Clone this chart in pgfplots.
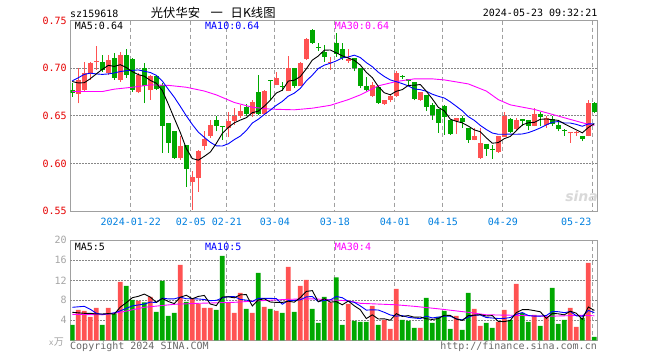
\documentclass[border=0pt]{standalone}
\usepackage{pgfplots}
\pgfplotsset{compat=1.18}
\usepackage{fontspec}
\setmainfont{DejaVu Sans Mono}
\setsansfont{DejaVu Sans}
\newfontfamily\cjk{Noto Sans CJK SC}
\definecolor{cred}{RGB}{255,82,82}
\definecolor{cgreen}{RGB}{0,168,0}
\definecolor{labred}{RGB}{230,0,0}
\definecolor{dateblue}{RGB}{0,128,224}
\definecolor{framegray}{RGB}{160,160,160}
\definecolor{gridgray}{RGB}{160,160,160}
\definecolor{dotgray}{RGB}{135,135,135}
\definecolor{volgray}{RGB}{165,165,165}
\definecolor{copygray}{RGB}{105,105,105}
\definecolor{maten}{RGB}{0,0,255}
\definecolor{mathirty}{RGB}{255,0,255}
\newcommand{\tf}{\fontsize{10}{12}\selectfont}
\pgfplotsset{
  kbase/.style={
    scale only axis, width=527.4pt, anchor=north west,
    xmin=-0.333, xmax=87.567,
    axis line style={draw=framegray, line width=1pt},
    major tick length=0pt,
    unbounded coords=jump,
    tick label style={font=\tf},
    yticklabel style={anchor=east, inner sep=0pt, xshift=-3.5pt},
  },
  vgrid/.style={forget plot, gridgray, line width=1pt, dash pattern=on 4pt off 3pt},
  hgrid/.style={forget plot, dotgray, line width=1pt, dash pattern=on 1.2pt off 1.8pt},
}
\begin{document}
\begin{tikzpicture}
\fill[white] (0pt,0pt) rectangle (660pt,-360pt);
\useasboundingbox (0pt,0pt) rectangle (660pt,-360pt);
% ---------------- price panel ----------------
\begin{axis}[kbase, at={(70.3pt,-20.6pt)}, height=190.4pt,
  ymin=0.55, ymax=0.75, ytick={0.55,0.6,0.65,0.7,0.75},
  yticklabels={0.55,0.60,0.65,0.70,0.75},
  yticklabel style={text=labred},
  xtick={9.75,19.75,25.75,33.75,43.75,53.75,61.75,71.75,86.75},
  xticklabels={2024-01-22,02-05,02-21,03-04,03-18,04-01,04-15,04-29,\makebox[0pt][r]{05-23\hspace{1.5pt}}},
  xticklabel style={text=dateblue, anchor=north, inner sep=0pt, yshift=-6.5pt},
]
% grid lines
\addplot[hgrid] coordinates {(-0.333,0.60)(87.567,0.60)(87.567,nan)(-0.333,0.65)(87.567,0.65)(87.567,nan)(-0.333,0.70)(87.567,0.70)};
\addplot[vgrid] coordinates {(9.75,0.75)(9.75,0.55)(9.75,nan)(19.75,0.75)(19.75,0.55)(19.75,nan)(25.75,0.75)(25.75,0.55)(25.75,nan)
(33.75,0.75)(33.75,0.55)(33.75,nan)(43.75,0.75)(43.75,0.55)(43.75,nan)(53.75,0.75)(53.75,0.55)(53.75,nan)
(61.75,0.75)(61.75,0.55)(61.75,nan)(71.75,0.75)(71.75,0.55)(71.75,nan)(86.75,0.75)(86.75,0.55)};
% green (down) candles: wicks
\addplot[cgreen, line width=1pt] coordinates {
(0,0.670)(0,0.684)(0,nan) (5,0.6965)(5,0.714)(5,nan) (7,0.688)(7,0.716)(7,nan) (9,0.690)(9,0.720)(9,nan)
(10,0.6755)(10,0.7105)(10,nan) (12,0.6633)(12,0.7053)(12,nan) (14,0.677)(14,0.693)(14,nan) (15,0.611)(15,0.684)(15,nan)
(16,0.611)(16,0.642)(16,nan) (17,0.605)(17,0.634)(17,nan) (19,0.575)(19,0.619)(19,nan) (24,0.6337)(24,0.6493)(24,nan)
(25,0.625)(25,0.6392)(25,nan) (29,0.6493)(29,0.6625)(29,nan) (31,0.651)(31,0.693)(31,nan) (33,0.667)(33,0.688)(33,nan)
(35,0.676)(35,0.685)(35,nan) (37,0.679)(37,0.700)(37,nan) (40,0.7255)(40,0.741)(40,nan) (41,0.718)(41,0.726)(41,nan)
(42,0.707)(42,0.724)(42,nan) (44,0.712)(44,0.737)(44,nan) (45,0.709)(45,0.726)(45,nan) (47,0.6966)(47,0.7104)(47,nan)
(48,0.679)(48,0.700)(48,nan) (49,0.6757)(49,0.6907)(49,nan) (51,0.6626)(51,0.680)(51,nan) (55,0.6886)(55,0.6925)(55,nan)
(56,0.6809)(56,0.6886)(56,nan) (57,0.6663)(57,0.6851)(57,nan) (59,0.655)(59,0.6723)(59,nan) (60,0.646)(60,0.663)(60,nan)
(61,0.632)(61,0.657)(61,nan) (62,0.630)(62,0.661)(62,nan) (63,0.630)(63,0.6458)(63,nan) (65,0.6372)(65,0.650)(65,nan)
(66,0.6215)(66,0.6372)(66,nan) (69,0.6083)(69,0.6208)(69,nan) (70,0.6049)(70,0.6198)(70,nan) (73,0.632)(73,0.6476)(73,nan)
(75,0.6389)(75,0.6465)(75,nan) (76,0.6347)(76,0.6452)(76,nan) (78,0.6389)(78,0.6545)(78,nan) (80,0.6389)(80,0.6493)(80,nan)
(81,0.6337)(81,0.6452)(81,nan) (82,0.6292)(82,0.6361)(82,nan) (85,0.6233)(85,0.6292)(85,nan) (87,0.6528)(87,0.665)
};
% green bodies
\addplot[cgreen, line width=4.8pt] coordinates {
(0,0.677)(0,0.674)(0,nan) (5,0.706)(5,0.698)(5,nan) (7,0.7105)(7,0.6895)(7,nan) (9,0.714)(9,0.693)(9,nan)
(10,0.7095)(10,0.677)(10,nan) (12,0.700)(12,0.681)(12,nan) (14,0.692)(14,0.678)(14,nan) (15,0.6825)(15,0.639)(15,nan)
(16,0.642)(16,0.6215)(16,nan) (17,0.634)(17,0.606)(17,nan) (19,0.619)(19,0.594)(19,nan) (24,0.6458)(24,0.6396)(24,nan)
(25,0.639)(25,0.6378)(25,nan) (29,0.659)(29,0.652)(29,nan) (31,0.6747)(31,0.6521)(31,nan) (33,0.6875)(33,0.6865)(33,nan)
(35,0.681)(35,0.680)(35,nan) (37,0.700)(37,0.681)(37,nan) (40,0.7406)(40,0.726)(40,nan) (41,0.722)(41,0.7208)(41,nan)
(42,0.717)(42,0.712)(42,nan) (44,0.727)(44,0.715)(44,nan) (45,0.720)(45,0.7105)(45,nan) (47,0.7104)(47,0.700)(47,nan)
(48,0.700)(48,0.681)(48,nan) (49,0.6817)(49,0.6768)(49,nan) (51,0.680)(51,0.6636)(51,nan) (55,0.6920)(55,0.6908)(55,nan)
(56,0.6886)(56,0.6862)(56,nan) (57,0.6851)(57,0.6677)(57,nan) (59,0.6723)(59,0.6594)(59,nan) (60,0.661)(60,0.651)(60,nan)
(61,0.657)(61,0.642)(61,nan) (62,0.660)(62,0.649)(62,nan) (63,0.6458)(63,0.6313)(63,nan) (65,0.6476)(65,0.6431)(65,nan)
(66,0.6372)(66,0.625)(66,nan) (69,0.6208)(69,0.6156)(69,nan) (70,0.6155)(70,0.6143)(70,nan) (73,0.6465)(73,0.6327)(73,nan)
(75,0.6462)(75,0.6450)(75,nan) (76,0.6452)(76,0.6396)(76,nan) (78,0.652)(78,0.6486)(78,nan) (80,0.6465)(80,0.6417)(80,nan)
(81,0.6406)(81,0.6361)(81,nan) (82,0.6348)(82,0.6336)(82,nan) (85,0.6285)(85,0.6257)(85,nan) (87,0.6639)(87,0.6545)
};
% red (up) candles: wicks
\addplot[cred, line width=1pt] coordinates {
(1,0.663)(1,0.700)(1,nan) (2,0.676)(2,0.706)(2,nan) (3,0.688)(3,0.707)(3,nan) (4,0.698)(4,0.7235)(4,nan)
(6,0.693)(6,0.714)(6,nan) (8,0.686)(8,0.7175)(8,nan) (11,0.6738)(11,0.6948)(11,nan) (13,0.6668)(13,0.693)(13,nan)
(18,0.604)(18,0.6285)(18,nan) (20,0.551)(20,0.592)(20,nan) (21,0.570)(21,0.6146)(21,nan) (22,0.614)(22,0.6344)(22,nan)
(23,0.6267)(23,0.6458)(23,nan) (26,0.6274)(26,0.6545)(26,nan) (27,0.6406)(27,0.658)(27,nan) (28,0.6476)(28,0.6615)(28,nan)
(30,0.649)(30,0.667)(30,nan) (32,0.651)(32,0.6775)(32,nan) (34,0.6827)(34,0.6955)(34,nan) (36,0.6757)(36,0.713)(36,nan)
(38,0.681)(38,0.706)(38,nan) (39,0.7087)(39,0.7313)(39,nan) (43,0.698)(43,0.712)(43,nan) (46,0.7055)(46,0.720)(46,nan)
(50,0.670)(50,0.686)(50,nan) (52,0.6615)(52,0.667)(52,nan) (53,0.6643)(53,0.6722)(53,nan) (54,0.6698)(54,0.6966)(54,nan)
(58,0.666)(58,0.6755)(58,nan) (64,0.6313)(64,0.6476)(64,nan) (67,0.6243)(67,0.6372)(67,nan) (68,0.6049)(68,0.6372)(68,nan)
(71,0.611)(71,0.6285)(71,nan) (72,0.6278)(72,0.6545)(72,nan) (74,0.6337)(74,0.6476)(74,nan) (77,0.639)(77,0.658)(77,nan)
(79,0.6372)(79,0.650)(79,nan) (83,0.6215)(83,0.6328)(83,nan) (84,0.6292)(84,0.6337)(84,nan) (86,0.6285)(86,0.6667)
};
% red bodies
\addplot[cred, line width=4.8pt] coordinates {
(1,0.673)(1,0.688)(1,nan) (2,0.677)(2,0.695)(2,nan) (3,0.695)(3,0.705)(3,nan) (4,0.707)(4,0.708)(4,nan)
(6,0.695)(6,0.709)(6,nan) (8,0.688)(8,0.714)(8,nan) (11,0.6745)(11,0.693)(11,nan) (13,0.677)(13,0.692)(13,nan)
(18,0.606)(18,0.618)(18,nan) (20,0.5806)(20,0.5861)(20,nan) (21,0.5844)(21,0.6128)(21,nan) (22,0.618)(22,0.626)(22,nan)
(23,0.629)(23,0.6406)(23,nan) (26,0.6372)(26,0.6441)(26,nan) (27,0.6441)(27,0.650)(27,nan) (28,0.650)(28,0.6552)(28,nan)
(30,0.652)(30,0.665)(30,nan) (32,0.652)(32,0.6765)(32,nan) (34,0.6827)(34,0.6896)(34,nan) (36,0.6757)(36,0.700)(36,nan)
(38,0.681)(38,0.7052)(38,nan) (39,0.7094)(39,0.7302)(39,nan) (43,0.705)(43,0.706)(43,nan) (46,0.708)(46,0.710)(46,nan)
(50,0.6705)(50,0.6827)(50,nan) (52,0.6629)(52,0.667)(52,nan) (53,0.667)(53,0.6705)(53,nan) (54,0.6705)(54,0.695)(54,nan)
(58,0.667)(58,0.6745)(58,nan) (64,0.6441)(64,0.6476)(64,nan) (67,0.625)(67,0.6292)(67,nan) (68,0.6056)(68,0.6215)(68,nan)
(71,0.6118)(71,0.6285)(71,nan) (72,0.6278)(72,0.650)(72,nan) (74,0.6361)(74,0.6458)(74,nan) (77,0.6396)(77,0.652)(77,nan)
(79,0.6406)(79,0.6476)(79,nan) (83,0.6316)(83,0.6328)(83,nan) (84,0.6316)(84,0.6328)(84,nan) (86,0.6292)(86,0.6639)
};
% MA30
\addplot[mathirty, line width=0.9pt] coordinates {
(0,0.6755)(5,0.6755)(7,0.678)(10,0.680)(13,0.6825)(16,0.682)(19,0.680)(22,0.676)(24,0.672)(27,0.664)(30,0.659)
(33,0.657)(37,0.6563)(40,0.658)(43,0.661)(46,0.667)(48,0.672)(51,0.6815)(54,0.686)(57,0.6888)(60,0.6888)(62,0.6877)
(66,0.6835)(69,0.676)(71,0.667)(73,0.6615)(77,0.6567)(80,0.6515)(83,0.6462)(86,0.641)(87,0.640)
};
% MA10
\addplot[maten, line width=0.9pt] coordinates {
(0,0.6868)(1,0.690)(2,0.6935)(3,0.6948)(4,0.694)(5,0.6935)(6,0.694)(7,0.695)(8,0.6965)(9,0.6974)
(10,0.6977)(11,0.6982)(12,0.6968)(13,0.6955)(14,0.6925)(15,0.6866)(16,0.6778)(17,0.6695)(18,0.6599)(19,0.6500)
(20,0.6409)(21,0.6329)(22,0.6274)(23,0.6222)(24,0.6184)(25,0.6183)(26,0.6206)(27,0.6250)(28,0.6287)(29,0.6345)
(30,0.6424)(31,0.6464)(32,0.6514)(33,0.6560)(34,0.6610)(35,0.6651)(36,0.6707)(37,0.6738)(38,0.6788)(39,0.6866)
(40,0.6927)(41,0.6997)(42,0.7032)(43,0.7052)(44,0.7077)(45,0.7108)(46,0.7118)(47,0.7137)(48,0.7112)(49,0.7059)
(50,0.7016)(51,0.6958)(52,0.6913)(53,0.6877)(54,0.6858)(55,0.6838)(56,0.6814)(57,0.6782)(58,0.6775)(59,0.6758)
(60,0.6727)(61,0.6705)(62,0.6687)(63,0.6647)(64,0.6600)(65,0.6552)(66,0.6491)(67,0.6452)(68,0.6399)(69,0.6356)
(70,0.6319)(71,0.6306)(72,0.6306)(73,0.6308)(74,0.6306)(75,0.6309)(76,0.6323)(77,0.6346)(78,0.6373)(79,0.6405)
(80,0.6432)(81,0.6440)(82,0.6424)(83,0.6424)(84,0.6410)(85,0.6390)(86,0.6415)(87,0.6417)
};
% MA5
\addplot[black, line width=0.9pt] coordinates {
(0,0.686)(1,0.6845)(2,0.6848)(3,0.689)(4,0.6940)(5,0.6988)(6,0.7030)(7,0.7019)(8,0.7037)(9,0.7007)
(10,0.6965)(11,0.6933)(12,0.6916)(13,0.6872)(14,0.6842)(15,0.6766)(16,0.6623)(17,0.6473)(18,0.6325)(19,0.6157)
(20,0.6051)(21,0.6034)(22,0.6074)(23,0.6119)(24,0.6210)(25,0.6315)(26,0.6378)(27,0.6426)(28,0.6455)(29,0.6480)
(30,0.6533)(31,0.6549)(32,0.6602)(33,0.6664)(34,0.6739)(35,0.6769)(36,0.6865)(37,0.6874)(38,0.6912)(39,0.6993)
(40,0.7085)(41,0.7128)(42,0.7190)(43,0.7191)(44,0.7161)(45,0.7130)(46,0.7107)(47,0.7083)(48,0.7033)(49,0.6957)
(50,0.6901)(51,0.6808)(52,0.6742)(53,0.6721)(54,0.6758)(55,0.6775)(56,0.6820)(57,0.6821)(58,0.6829)(59,0.6758)
(60,0.6678)(61,0.6589)(62,0.6552)(63,0.6465)(64,0.6442)(65,0.6426)(66,0.6392)(67,0.6352)(68,0.6333)(69,0.6269)
(70,0.6212)(71,0.6219)(72,0.6260)(73,0.6283)(74,0.6343)(75,0.6405)(76,0.6427)(77,0.6431)(78,0.6463)(79,0.6467)
(80,0.6459)(81,0.6452)(82,0.6416)(83,0.6384)(84,0.6353)(85,0.6321)(86,0.6377)(87,0.6417)
};
\end{axis}
% ---------------- volume panel ----------------
\begin{axis}[kbase, at={(70.3pt,-240.3pt)}, height=100pt,
  ymin=0, ymax=20, ytick={4,8,12,16,20}, yticklabels={4,8,12,16,20},
  yticklabel style={text=volgray},
  xtick=\empty,
]
\addplot[hgrid] coordinates {(-0.333,4)(87.567,4)(87.567,nan)(-0.333,8)(87.567,8)(87.567,nan)(-0.333,12)(87.567,12)(87.567,nan)(-0.333,16)(87.567,16)};
\addplot[vgrid] coordinates {(9.75,20)(9.75,0)(9.75,nan)(19.75,20)(19.75,0)(19.75,nan)(25.75,20)(25.75,0)(25.75,nan)
(33.75,20)(33.75,0)(33.75,nan)(43.75,20)(43.75,0)(43.75,nan)(53.75,20)(53.75,0)(53.75,nan)
(61.75,20)(61.75,0)(61.75,nan)(71.75,20)(71.75,0)(71.75,nan)(86.75,20)(86.75,0)};
\addplot[ybar, bar width=4.8pt, bar shift=0pt, fill=cgreen, draw=none] coordinates {
(0,3.1)(5,3.1)(7,5.4)(9,10.9)(10,8.1)(12,7.6)(14,5.7)(15,11.9)(16,4.9)(17,5.5)(19,7.7)(24,6.1)(25,16.9)
(29,6.3)(31,13.5)(33,6.3)(35,5.5)(37,5.7)(40,6.3)(41,3.5)(42,8.7)(44,12.6)(45,3.1)(47,3.9)(48,3.7)(49,3.7)
(51,3.1)(55,4.1)(56,3.9)(57,2.5)(59,8.5)(60,3.5)(61,4.7)(62,5.9)(63,2.3)(65,2.1)(66,9.5)(69,3.5)(70,2.5)
(73,4.1)(75,5.5)(76,3.7)(78,2.9)(80,10.5)(81,3.3)(82,4.1)(85,4.5)(87,0.7)
};
\addplot[ybar, bar width=4.8pt, bar shift=0pt, fill=cred, draw=none] coordinates {
(1,6.1)(2,5.9)(3,4.7)(4,6.5)(6,6.5)(8,11.7)(11,7.9)(13,8.7)(18,15.1)(20,8.3)(21,7.3)(22,6.5)(23,6.5)
(26,7.5)(27,5.5)(28,9.5)(30,5.5)(32,6.7)(34,5.9)(36,14.7)(38,10.9)(39,12.1)(43,7.6)(46,7.3)(50,6.9)
(52,4.1)(53,2.3)(54,10.3)(58,2.5)(64,4.9)(67,6.3)(68,2.9)(71,3.7)(72,6.1)(74,11.3)(77,5.1)(79,4.7)
(83,6.5)(84,2.7)(86,15.5)
};
% volume MA30
\addplot[mathirty, line width=0.9pt] coordinates {
(0,5.2)(5,5.1)(8,5.6)(12,6.6)(17,7.2)(21,7.4)(27,7.6)(31,7.9)(36,8.2)(40,8.3)(43,8.1)(46,7.9)(48,7.4)
(54,7.1)(57,6.8)(61,6.3)(66,5.6)(69,5.1)(74,5.0)(79,4.8)(85,5.0)(87,4.9)
};
% volume MA10
\addplot[maten, line width=0.9pt] coordinates {
(0,6.6)(1,6.7)(2,6.8)(3,6.2)(4,5.4)(5,5.2)(6,5.3)(7,5.5)(8,5.9)(9,6.39)
(10,6.89)(11,7.07)(12,7.24)(13,7.64)(14,7.56)(15,8.44)(16,8.28)(17,8.29)(18,8.63)(19,8.31)
(20,8.33)(21,8.27)(22,8.16)(23,7.94)(24,7.98)(25,8.48)(26,8.74)(27,8.74)(28,8.18)(29,8.04)
(30,7.76)(31,8.38)(32,8.40)(33,8.38)(34,8.36)(35,7.22)(36,7.94)(37,7.96)(38,8.10)(39,8.68)
(40,8.76)(41,7.76)(42,7.96)(43,8.09)(44,8.76)(45,8.52)(46,7.78)(47,7.60)(48,6.88)(49,6.04)
(50,6.10)(51,6.06)(52,5.60)(53,5.07)(54,4.84)(55,4.94)(56,4.60)(57,4.46)(58,4.34)(59,4.82)
(60,4.48)(61,4.64)(62,4.82)(63,4.82)(64,4.28)(65,4.08)(66,4.64)(67,5.02)(68,5.06)(69,4.56)
(70,4.46)(71,4.36)(72,4.38)(73,4.56)(74,5.20)(75,5.54)(76,4.96)(77,4.84)(78,4.84)(79,4.96)
(80,5.76)(81,5.72)(82,5.52)(83,5.76)(84,4.90)(85,4.80)(86,5.98)(87,5.54)
};
% volume MA5
\addplot[black, line width=0.9pt] coordinates {
(0,5.6)(1,5.5)(2,5.4)(3,5.4)(4,5.26)(5,5.26)(6,5.34)(7,5.24)(8,6.64)(9,7.52)
(10,8.52)(11,8.80)(12,9.24)(13,8.64)(14,7.60)(15,8.36)(16,7.76)(17,7.34)(18,8.62)(19,9.02)
(20,8.30)(21,8.78)(22,8.98)(23,7.26)(24,6.94)(25,8.66)(26,8.70)(27,8.50)(28,9.10)(29,9.14)
(30,6.86)(31,8.06)(32,8.30)(33,7.66)(34,7.58)(35,7.58)(36,7.82)(37,7.62)(38,8.54)(39,9.78)
(40,9.94)(41,7.70)(42,8.30)(43,7.64)(44,7.74)(45,7.10)(46,7.86)(47,6.90)(48,6.12)(49,4.34)
(50,5.10)(51,4.26)(52,4.30)(53,4.02)(54,5.34)(55,4.78)(56,4.94)(57,4.62)(58,4.66)(59,4.30)
(60,4.18)(61,4.34)(62,5.02)(63,4.98)(64,4.26)(65,3.98)(66,4.94)(67,5.02)(68,5.14)(69,4.86)
(70,4.94)(71,3.78)(72,3.74)(73,3.98)(74,5.54)(75,6.14)(76,6.14)(77,5.94)(78,5.70)(79,4.38)
(80,5.38)(81,5.30)(82,5.10)(83,5.82)(84,5.42)(85,4.22)(86,6.66)(87,5.98)
};
\end{axis}
% ---------------- texts ----------------
\node[anchor=base west, inner sep=0pt, font=\tf] at (70pt,-17.3pt) {sz159618};
\node[anchor=base west, inner sep=0pt, font=\cjk\fontsize{12.3}{14}\selectfont] at (150.7pt,-17.3pt) {光伏华安};
\node[anchor=base west, inner sep=0pt, font=\cjk\fontsize{12.3}{14}\selectfont] at (210.5pt,-17.3pt) {一};
\node[anchor=base west, inner sep=0pt, font=\cjk\fontsize{12.3}{14}\selectfont] at (230.5pt,-17.3pt) {日K线图};
\node[anchor=base east, inner sep=0pt, font=\tf] at (597.5pt,-16.8pt) {2024-05-23 09:32:21};
\node[anchor=base west, inner sep=0pt, font=\tf] at (74.7pt,-29.5pt) {MA5:0.64};
\node[anchor=base west, inner sep=0pt, font=\tf, text=maten] at (205pt,-29.5pt) {MA10:0.64};
\node[anchor=base west, inner sep=0pt, font=\tf, text=mathirty] at (334.7pt,-29.5pt) {MA30:0.64};
\node[anchor=base west, inner sep=0pt, font=\tf] at (74.7pt,-250.7pt) {MA5:5};
\node[anchor=base west, inner sep=0pt, font=\tf, text=maten] at (205pt,-250.7pt) {MA10:5};
\node[anchor=base west, inner sep=0pt, font=\tf, text=mathirty] at (334.7pt,-250.7pt) {MA30:4};
\node[anchor=base east, inner sep=0pt, text=volgray] at (64pt,-345pt) {{\fontsize{8}{9}\selectfont x}{\cjk\fontsize{10}{12}\selectfont 万}};
\node[anchor=base west, inner sep=0pt, font=\tf, text=copygray] at (70pt,-349pt) {Copyright 2024 SINA.COM};
\node[anchor=base east, inner sep=0pt, font=\tf, text=copygray] at (597pt,-349pt) {http://finance.sina.com.cn};
\node[anchor=base east, inner sep=0pt, text=gray!30, font=\sffamily\bfseries\itshape\fontsize{14}{14}\selectfont] at (598pt,-201pt) {sina};
\end{tikzpicture}
\end{document}
